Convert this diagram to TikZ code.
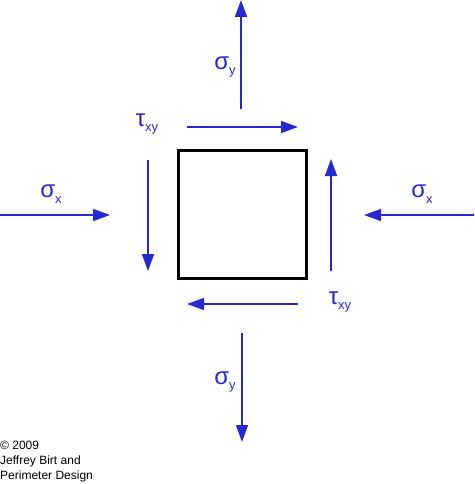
\documentclass[tikz,border=0pt]{standalone}
\usepackage{fontspec}
\setmainfont{Liberation Sans}
\usetikzlibrary{arrows.meta}

\definecolor{forceblue}{RGB}{40,40,210}

\tikzset{
    force/.style={forceblue, line width=1.6pt, -{Triangle[length=17pt, width=12pt]}},
    greek/.style={forceblue, inner sep=0pt, font=\fontsize{24}{26}\selectfont},
}
\newcommand{\sub}[1]{\raisebox{-0.45ex}{\fontsize{13}{15}\selectfont #1}}

\begin{document}
\begin{tikzpicture}[x=1pt, y=-1pt]
    \useasboundingbox (0,0) rectangle (474,484);

    % the element
    \node[draw, line width=2.4pt, minimum size=128pt, inner sep=0pt] (elem) at (242.5,214.5) {};

    % normal stresses
    \coordinate (sytop0) at (241,109);  \coordinate (sytop1) at (241,0);
    \coordinate (sybot0) at (242,333);  \coordinate (sybot1) at (242,442);
    \coordinate (sxl0) at (0,215);      \coordinate (sxl1) at (110,215);
    \coordinate (sxr0) at (474,215);    \coordinate (sxr1) at (364,215);
    \draw[force] (sytop0) -- (sytop1);
    \draw[force] (sybot0) -- (sybot1);
    \draw[force] (sxl0) -- (sxl1);
    \draw[force] (sxr0) -- (sxr1);

    % shear stresses
    \coordinate (txt0) at (187,127);    \coordinate (txt1) at (298,127);
    \coordinate (txb0) at (298,304);    \coordinate (txb1) at (187,304);
    \coordinate (txl0) at (148,160);    \coordinate (txl1) at (148,271);
    \coordinate (txr0) at (331,271);    \coordinate (txr1) at (331,159);
    \draw[force] (txt0) -- (txt1);
    \draw[force] (txb0) -- (txb1);
    \draw[force] (txl0) -- (txl1);
    \draw[force] (txr0) -- (txr1);

    \node[greek] (sylab1) at (225,67) {σ\sub{y}};
    \node[greek] (sylab2) at (225,382) {σ\sub{y}};
    \node[greek] (sxlab1) at (51,194) {σ\sub{x}};
    \node[greek] (sxlab2) at (422,194) {σ\sub{x}};
    \node[greek] (txlab1) at (147,124) {τ\sub{xy}};
    \node[greek] (txlab2) at (340,302) {τ\sub{xy}};

    \node[anchor=north west, inner sep=0pt, align=left, font=\fontsize{12}{15}\selectfont] (credit) at (0,441)
        {© 2009\\Jeffrey Birt and\\Perimeter Design};
\end{tikzpicture}
\end{document}
